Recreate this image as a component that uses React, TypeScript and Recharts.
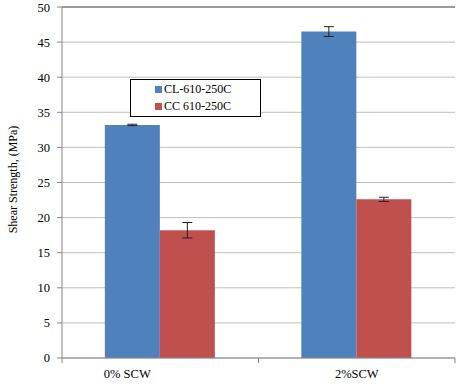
import React from 'react';
import {
  Bar,
  BarChart,
  CartesianGrid,
  ErrorBar,
  Legend,
  ReferenceLine,
  XAxis,
  YAxis,
} from 'recharts';

const categories = ['0% SCW', '2%SCW'];
const clValues = [33.2, 46.5];
const clErrors = [0.1, 0.7];
const ccValues = [18.2, 22.6];
const ccErrors = [1.1, 0.3];
const yTicks = [0, 5, 10, 15, 20, 25, 30, 35, 40, 45, 50];

const BLUE = '#4f81bd';
const RED = '#c0504d';
const FONT = '"Liberation Serif", "Times New Roman", serif';

const chartData = categories.map((c, i) => ({
  name: c,
  cl: clValues[i],
  clErr: clErrors[i],
  cc: ccValues[i],
  ccErr: ccErrors[i],
}));

function CategoryTick(props: any) {
  const { x, y, payload, index, width, visibleTicksCount } = props;
  const half = width / (visibleTicksCount || 1) / 2;
  // first label sits left of its bars in the original
  const shift = index === 0 ? -33 : 0;
  return (
    <g>
      {index === 0 && <line x1={x - half} x2={x - half} y1={y} y2={y + 5} stroke="#868686" />}
      <line x1={x + half} x2={x + half} y1={y} y2={y + 5} stroke="#868686" />
      <text
        x={x + shift}
        y={y + 20}
        textAnchor="middle"
        fontFamily={FONT}
        fontSize={12.5}
        fill="#000"
      >
        {payload.value}
      </text>
    </g>
  );
}

function LegendBox() {
  const items = [
    { label: 'CL-610-250C', color: BLUE },
    { label: 'CC 610-250C', color: RED },
  ];
  return (
    <div
      style={{
        width: 129,
        height: 35,
        border: '1px solid #000',
        background: '#fff',
        fontFamily: FONT,
        fontSize: 12,
        color: '#000',
        boxSizing: 'content-box',
        paddingTop: 1,
      }}
    >
      {items.map((it) => (
        <div
          key={it.label}
          style={{ display: 'flex', alignItems: 'center', height: 17, paddingLeft: 24 }}
        >
          <span
            style={{ width: 7, height: 7, background: it.color, marginRight: 2, display: 'inline-block' }}
          />
          <span>{it.label}</span>
        </div>
      ))}
    </div>
  );
}

export default function App() {
  return (
    <div style={{ position: 'absolute', left: 0, top: 0, background: '#fff' }}>
      <BarChart
        width={474}
        height={392}
        data={chartData}
        margin={{ top: 7, right: 19, bottom: 0, left: 0 }}
        barCategoryGap="21.8%"
        barGap={0}
      >
        <CartesianGrid vertical={false} stroke="#bfbfbf" />
        <XAxis
          dataKey="name"
          height={34}
          tickLine={false}
          tickSize={0}
          tickMargin={0}
          axisLine={{ stroke: '#868686' }}
          tick={<CategoryTick />}
        />
        <YAxis
          domain={[0, 50]}
          ticks={yTicks}
          width={62}
          tickSize={5}
          tickMargin={7}
          axisLine={{ stroke: '#868686' }}
          tickLine={{ stroke: '#868686' }}
          tick={{ fontFamily: FONT, fontSize: 12.5, fill: '#000' }}
          label={{
            value: 'Shear Strength, (MPa)',
            angle: -90,
            position: 'center',
            dx: -18,
            dy: -3,
            style: { fontFamily: FONT, fontSize: 12, fill: '#000' },
          }}
        />
        <YAxis
          yAxisId="frame"
          orientation="right"
          domain={[0, 50]}
          width={0}
          tick={false}
          tickLine={false}
          axisLine={{ stroke: '#595959' }}
        />
        <ReferenceLine y={50} stroke="#595959" />
        <Legend
          layout="horizontal"
          verticalAlign="middle"
          align="center"
          content={<LegendBox />}
          wrapperStyle={{ left: 130, top: 79, width: 131, height: 37 }}
        />
        <Bar dataKey="cl" name="CL-610-250C" fill={BLUE} isAnimationActive={false}>
          <ErrorBar dataKey="clErr" width={5} stroke="#222" strokeWidth={1} />
        </Bar>
        <Bar dataKey="cc" name="CC 610-250C" fill={RED} isAnimationActive={false}>
          <ErrorBar dataKey="ccErr" width={5} stroke="#222" strokeWidth={1} />
        </Bar>
      </BarChart>
    </div>
  );
}
